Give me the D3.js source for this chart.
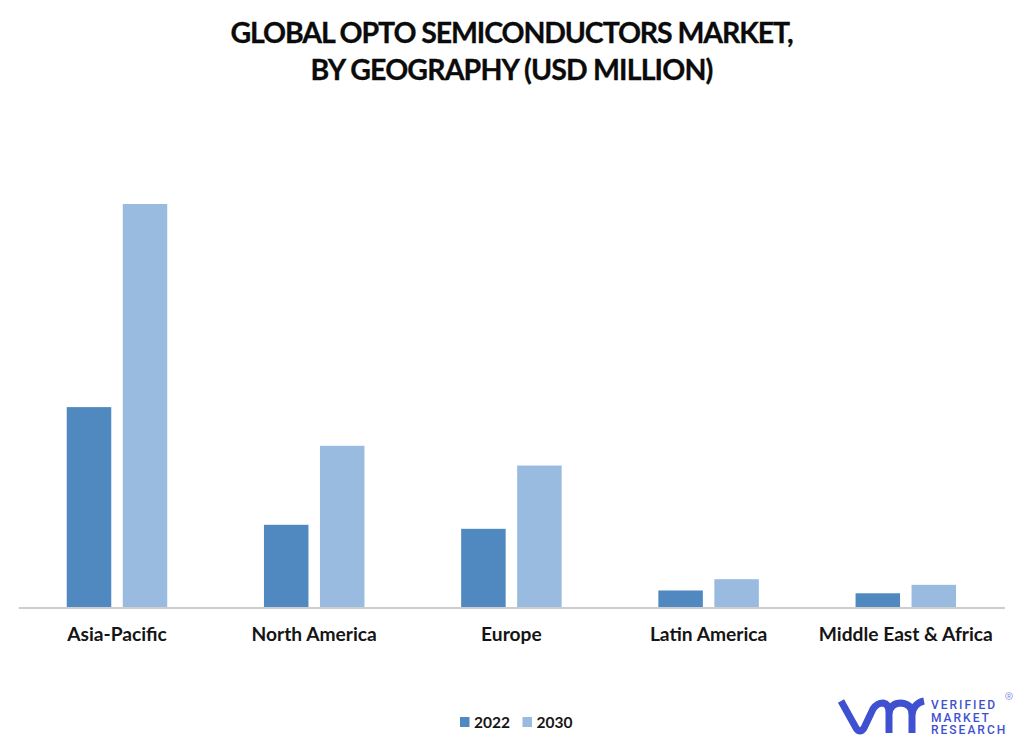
<!DOCTYPE html>
<html><head><meta charset="utf-8">
<script src="https://cdn.jsdelivr.net/npm/d3@7/dist/d3.min.js"></script>
<style>html,body{margin:0;padding:0;background:#fff}svg{display:block}</style>
</head><body><svg id="c" width="1024" height="749"></svg>
<script>
const categories=["Asia-Pacific","North America","Europe","Latin America","Middle East & Africa"];
const values2022=[49.6,20.4,19.4,4.1,3.4];
const values2030=[100,40.0,35.1,6.9,5.5];
const seriesNames=["2022","2030"];
const colors=["#5089bf","#9abbe0"];
const titleLines=["GLOBAL OPTO SEMICONDUCTORS MARKET,","BY GEOGRAPHY (USD MILLION)"];
const logoWords=["VERIFIED","MARKET","RESEARCH"];

const svg=d3.select("#c");
const font="Lato, Carlito, sans-serif";
const x=d3.scaleBand().domain(categories).range([18.4,1004.4]);
const y=d3.scaleLinear().domain([0,100]).range([607,204]);
const barW=44.5,gap=11.5;

svg.selectAll("text.t").data(titleLines).join("text").attr("class","t")
 .attr("x",511.5).attr("y",(d,i)=>43+i*37).attr("text-anchor","middle")
 .attr("font-family",font).attr("font-weight",700).attr("font-size",28.5)
 .attr("letter-spacing",(d,i)=>i===0?-1.1:-0.85).attr("stroke","#0b0b0b").attr("stroke-width",0.3).attr("fill","#0b0b0b").text(d=>d);

[values2022,values2030].forEach((vals,s)=>{
 svg.append("g").selectAll("rect").data(vals).join("rect")
  .attr("x",(d,i)=>x(categories[i])+x.bandwidth()/2+(s===0?-gap/2-barW:gap/2))
  .attr("y",d=>y(d)).attr("width",barW).attr("height",d=>y(0)-y(d)).attr("fill",colors[s]);
});

const axis=svg.append("g").attr("transform",`translate(0,${y(0)+0.5})`)
 .call(d3.axisBottom(x).tickSize(0).tickPadding(20));
axis.select(".domain").attr("stroke","#bdbdbd").attr("stroke-width",1.5);
axis.selectAll("text").attr("font-family",font).attr("font-weight",700).attr("font-size",19.2).attr("fill","#151515");

const lg=svg.append("g");
seriesNames.forEach((n,i)=>{
 const lx=460+i*62.5;
 lg.append("rect").attr("x",lx).attr("y",717).attr("width",9.5).attr("height",10).attr("fill",colors[i]);
 lg.append("text").attr("x",lx+14).attr("y",727.5).attr("font-family",font).attr("font-weight",700)
  .attr("font-size",15.5).attr("fill","#151515").text(n);
});

const logo=svg.append("g").attr("fill","none").attr("stroke","#3f51d0").attr("stroke-width",7).attr("stroke-linecap","butt");
logo.append("path").attr("d","M841,701 L856,728 Q860,734 864,728 L873,709 Q877,703 883,703 Q889,704 889,712 L889,733");
logo.append("path").attr("d","M889,713 Q891,703 901,703 Q912,704 912,714 L912,733");
logo.append("path").attr("d","M912,714 Q914,703 924,701");
svg.selectAll("text.l").data(logoWords).join("text").attr("class","l")
 .attr("x",931).attr("y",(d,i)=>709+i*12.7).attr("font-family","Roboto, sans-serif").attr("font-weight",500)
 .attr("font-size",12).attr("letter-spacing",2.0).attr("fill","#3f51d0").text(d=>d);
svg.append("circle").attr("cx",1009).attr("cy",696).attr("r",3.5).attr("fill","none").attr("stroke","#8f9be0").attr("stroke-width",0.8);
svg.append("text").attr("x",1009).attr("y",698).attr("text-anchor","middle").attr("font-size",5.5).attr("font-family","Roboto, sans-serif").attr("fill","#6f7dd8").text("R");
</script></body></html>
